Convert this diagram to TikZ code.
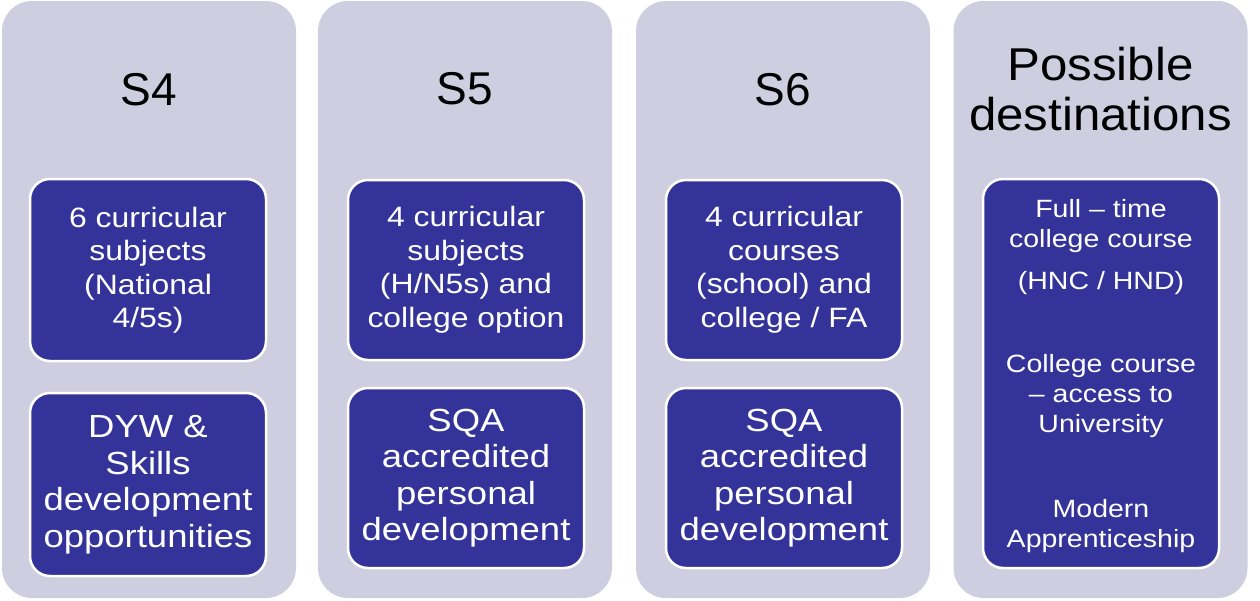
\documentclass[tikz,border=0pt]{standalone}
\usepackage{fontspec}
\setmainfont{Liberation Sans}
\newfontfamily\boxfont{Liberation Sans}[FakeStretch=1.14, Ligatures=TeX]
\newfontfamily\destfont{Liberation Sans}[FakeStretch=1.07]
\definecolor{colfill}{RGB}{206,206,224}
\definecolor{boxfill}{RGB}{51,51,153}
\begin{document}
\begin{tikzpicture}[x=1pt, y=-1pt,
  col node/.style={rectangle, fill=colfill, rounded corners=30pt, minimum width=294pt, minimum height=597pt, inner sep=0pt},
  head node/.style={anchor=base, align=center, font=\fontsize{46}{50}\selectfont},
  item node/.style={rectangle, draw=white, line width=2.5pt, fill=boxfill, rounded corners=20pt, minimum width=236pt, inner sep=0pt, text=white, align=center}]
\useasboundingbox (0,0) rectangle (1260,600);
\begin{scope}
\node[col node] (col1) at (149,299.5) {};
\node[col node] (col2) at (465,299.5) {};
\node[col node] (col3) at (783,299.5) {};
\node[col node] (col4) at (1100.5,299.5) {};
\end{scope}
\begin{scope}
\node[head node] (s4) at (149,105) {S4};
\node[head node] (s5) at (465,104) {S5};
\node[head node] (s6) at (783,105) {S6};
\node[head node, font=\destfont\fontsize{46}{50}\selectfont] (dest) at (1100.5,130) {Possible\\destinations};
\end{scope}
\begin{scope}[every node/.append style={font=\boxfont\fontsize{28}{33.5}\selectfont}]
\node[item node, minimum height=182pt] (s4a) at (148,270) {6 curricular\\subjects\\(National\\4/5s)};
\node[item node, minimum height=180pt] (s5a) at (466,270) {4 curricular\\subjects\\(H/N5s) and\\college option};
\node[item node, minimum height=180pt] (s6a) at (784,270) {4 curricular\\courses\\(school) and\\college / FA};
\end{scope}
\begin{scope}[every node/.append style={font=\boxfont\fontsize{32}{36.5}\selectfont}]
\node[item node, minimum height=183pt] (s4b) at (148,484.5) {DYW \&\\Skills\\development\\opportunities};
\node[item node, minimum height=180pt] (s5b) at (466,478) {SQA\\accredited\\personal\\development};
\node[item node, minimum height=180pt] (s6b) at (784,478) {SQA\\accredited\\personal\\development};
\end{scope}
\node[item node, minimum height=389pt, font=\boxfont\fontsize{25}{30}\selectfont] (dests) at (1101,373.5)
  {\\[-6pt]Full – time\\college course\\[12pt](HNC / HND)\\[53pt]College course\\– access to\\University\\[55pt]Modern\\Apprenticeship};
\end{tikzpicture}
\end{document}
